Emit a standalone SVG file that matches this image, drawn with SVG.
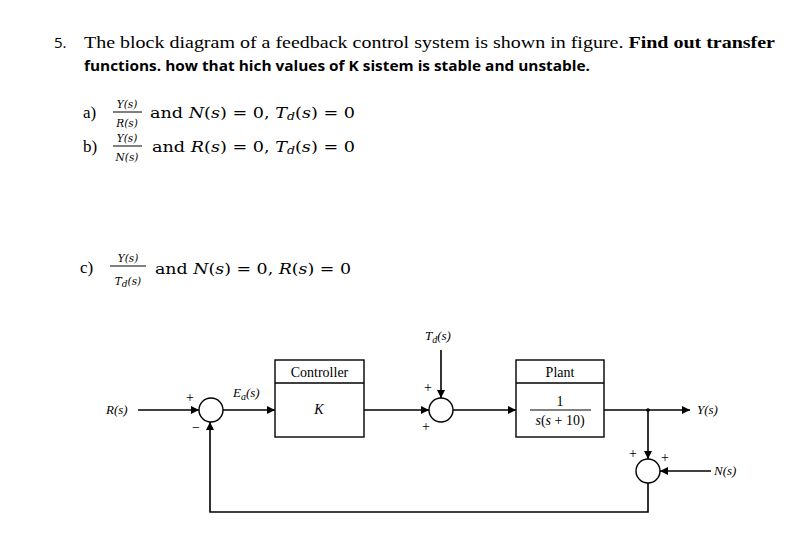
<svg xmlns="http://www.w3.org/2000/svg" width="797" height="558" viewBox="0 0 797 558">
<style>
.s{font-family:"Liberation Serif",serif;font-size:17px;fill:#000}
.b{font-family:"Open Sans","Liberation Sans",sans-serif;font-weight:bold;font-size:14.5px;fill:#000}
.f{font-family:"DejaVu Serif",serif;font-style:italic;font-size:10.5px;fill:#000;text-anchor:middle}
.e{font-family:"DejaVu Serif",serif;font-size:15.5px;fill:#000}
.l{font-family:"Liberation Serif",serif;font-style:italic;font-size:13px;fill:#000}
.bx{font-family:"Liberation Serif",serif;font-size:14px;fill:#000;text-anchor:middle}
.ln{stroke:#000;stroke-width:1.6;fill:none}
.c{stroke:#000;stroke-width:1.4;fill:#fff}
</style>
<defs><marker id="a" viewBox="0 0 10 10" refX="10" refY="5" markerWidth="8" markerHeight="8" markerUnits="userSpaceOnUse" orient="auto"><path d="M0,0L10,5L0,10z" fill="#000"/></marker></defs>
<g id="text">
<text x="54" y="48" class="s" style="font-family:'Open Sans',sans-serif;font-size:15px">5.</text>
<text x="84" y="48" class="s" textLength="691" lengthAdjust="spacingAndGlyphs">The block diagram of a feedback control system is shown in figure. <tspan font-weight="bold">Find out transfer</tspan></text>
<text x="84" y="71" class="b" textLength="506" lengthAdjust="spacingAndGlyphs">functions. how that hich values of K sistem is stable and unstable.</text>
<text x="83" y="118" class="s">a)</text>
<text x="127" y="108" class="f">Y(s)</text><line x1="113" y1="112" x2="142" y2="112" stroke="#000"/><text x="127" y="127" class="f">R(s)</text>
<text x="150" y="118" class="e" textLength="205" lengthAdjust="spacingAndGlyphs">and <tspan font-style="italic">N</tspan>(<tspan font-style="italic">s</tspan>) = 0, <tspan font-style="italic">T<tspan font-size="11" dy="2">d</tspan></tspan><tspan dy="-2">(</tspan><tspan font-style="italic">s</tspan>) = 0</text>
<text x="83" y="152" class="s">b)</text>
<text x="127" y="142" class="f">Y(s)</text><line x1="113" y1="146" x2="142" y2="146" stroke="#000"/><text x="127" y="161" class="f">N(s)</text>
<text x="152" y="152" class="e" textLength="203" lengthAdjust="spacingAndGlyphs">and <tspan font-style="italic">R</tspan>(<tspan font-style="italic">s</tspan>) = 0, <tspan font-style="italic">T<tspan font-size="11" dy="2">d</tspan></tspan><tspan dy="-2">(</tspan><tspan font-style="italic">s</tspan>) = 0</text>
<text x="80" y="273" class="s">c)</text>
<text x="128" y="262" class="f">Y(s)</text><line x1="110" y1="266" x2="146" y2="266" stroke="#000"/><text x="128" y="285" class="f">T<tspan font-size="9" dy="2">d</tspan><tspan dy="-2">(s)</tspan></text>
<text x="155" y="274" class="e" textLength="196" lengthAdjust="spacingAndGlyphs">and <tspan font-style="italic">N</tspan>(<tspan font-style="italic">s</tspan>) = 0, <tspan font-style="italic">R</tspan>(<tspan font-style="italic">s</tspan>) = 0</text>
</g>
<g id="connectors">
<line x1="138" y1="410" x2="199" y2="410" class="ln" marker-end="url(#a)"/>
<line x1="223" y1="410" x2="275" y2="410" class="ln" marker-end="url(#a)"/>
<line x1="364" y1="410" x2="429" y2="410" class="ln" marker-end="url(#a)"/>
<line x1="441" y1="350" x2="441" y2="398" class="ln" marker-end="url(#a)"/>
<line x1="453" y1="410" x2="516" y2="410" class="ln" marker-end="url(#a)"/>
<line x1="604" y1="410" x2="690" y2="410" class="ln" marker-end="url(#a)"/>
<line x1="648" y1="410" x2="648" y2="459" class="ln" marker-end="url(#a)"/>
<line x1="711" y1="471" x2="660" y2="471" class="ln" marker-end="url(#a)"/>
<polyline points="648,483 648,512 210,512 210,422" class="ln" marker-end="url(#a)"/>
<circle cx="648" cy="410" r="1.8" fill="#000"/>
</g>
<g id="sum1"><circle cx="211" cy="410" r="12" class="c"/><text x="190" y="402" class="bx">+</text><text x="196" y="432" class="bx">−</text></g>
<g id="sum2"><circle cx="441" cy="410" r="12" class="c"/><text x="428" y="392" class="bx">+</text><text x="426" y="431" class="bx">+</text></g>
<g id="sum3"><circle cx="648" cy="471" r="12" class="c"/><text x="633" y="458" class="bx">+</text><text x="665" y="462" class="bx">+</text></g>
<g id="controller"><rect x="275" y="360" width="89" height="77" fill="#fff" stroke="#000" stroke-width="1.4"/><line x1="275" y1="383" x2="364" y2="383" stroke="#000" stroke-width="1.4"/><text x="319.5" y="377" class="bx">Controller</text><text x="319" y="414" class="bx" font-style="italic">K</text></g>
<g id="plant"><rect x="516" y="360" width="88" height="77" fill="#fff" stroke="#000" stroke-width="1.4"/><line x1="516" y1="383" x2="604" y2="383" stroke="#000" stroke-width="1.4"/><text x="560" y="377" class="bx">Plant</text><text x="560" y="406" class="bx">1</text><line x1="530" y1="410" x2="591" y2="410" stroke="#000"/><text x="560" y="425" class="bx"><tspan font-style="italic">s</tspan>(<tspan font-style="italic">s</tspan> + 10)</text></g>
<g id="labels">
<text x="106" y="414" class="l">R(s)</text>
<text x="233" y="397" class="l">E<tspan font-size="10" dy="3">a</tspan><tspan dy="-3">(s)</tspan></text>
<text x="425" y="340" class="l">T<tspan font-size="10" dy="3">d</tspan><tspan dy="-3">(s)</tspan></text>
<text x="697" y="414" class="l">Y(s)</text>
<text x="714" y="475" class="l">N(s)</text>
</g>
</svg>
